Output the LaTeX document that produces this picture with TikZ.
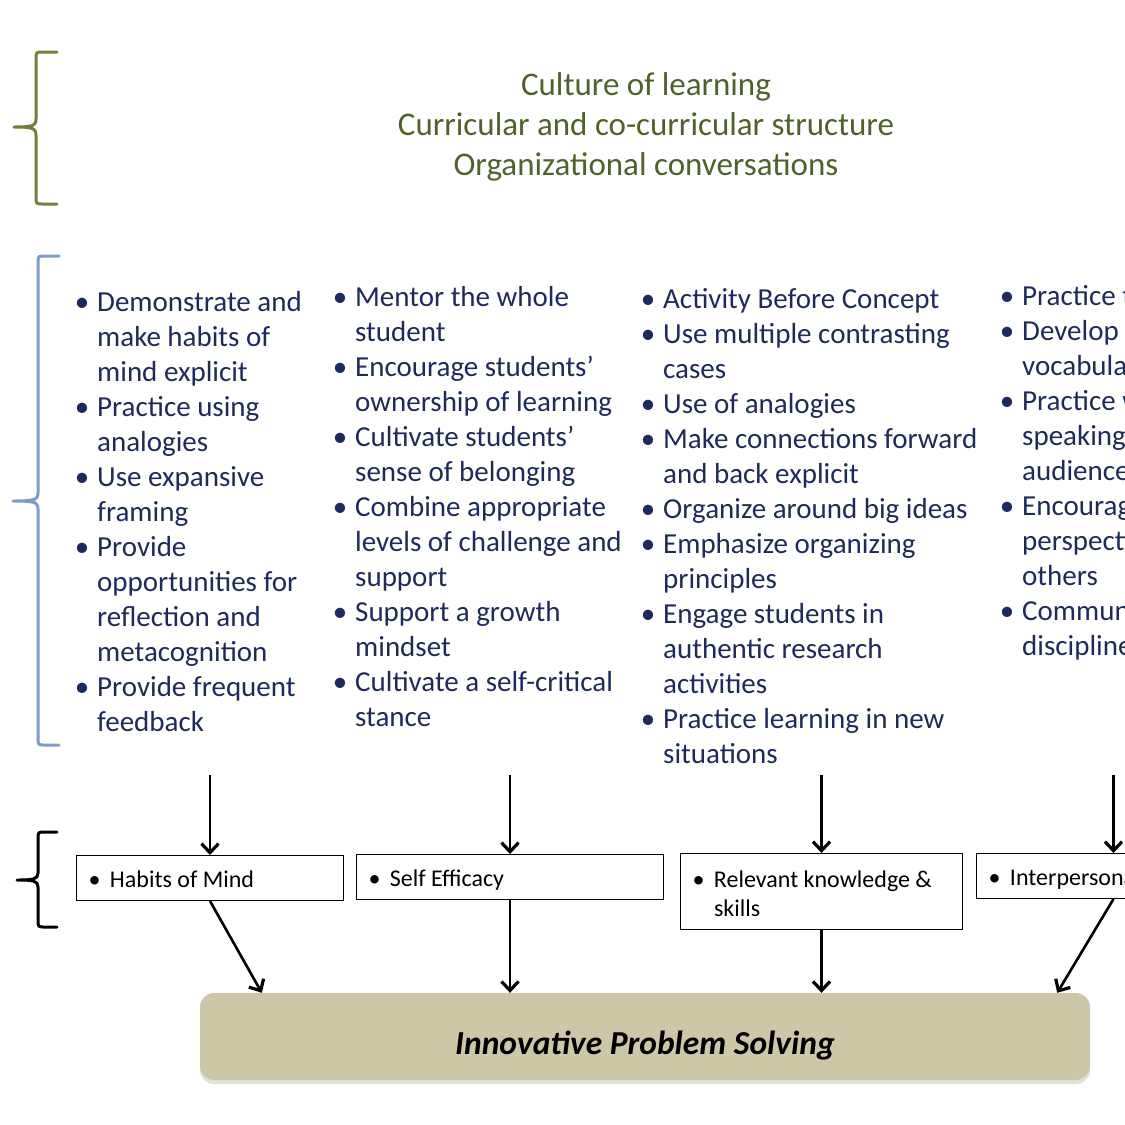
\documentclass[tikz,border=0pt]{standalone}
\usepackage{fontspec}
\setmainfont{Carlito}
\usetikzlibrary{arrows.meta,shadows}
\setlength{\parindent}{0pt}

\definecolor{olivetext}{RGB}{79,98,40}
\definecolor{olivebrace}{RGB}{112,127,60}
\definecolor{navytext}{RGB}{30,42,95}
\definecolor{bluebrace}{RGB}{125,155,205}
\definecolor{ipsfill}{RGB}{203,199,167}

\newcommand\tipb{\makebox[15pt][l]{\hspace*{-7pt}\makebox[14pt][c]{\textbullet}}}
\newcommand\tipi{\hspace*{15pt}}
\newcommand\goalb{\makebox[18.5pt][l]{\hspace*{-3pt}\makebox[12pt][c]{\textbullet}}}

\tikzset{brace line/.style={line width=3pt,line cap=round,line join=round},
  title text/.style={anchor=north,inner sep=0pt,align=center,text=olivetext,font=\fontsize{33}{40}\selectfont},
  tip list/.style={anchor=north west,inner sep=0pt,align=left,text=navytext,font=\fontsize{29}{35}\selectfont},
  goal box/.style={draw,line width=1pt,anchor=north west,minimum height=45pt,inner xsep=15pt,inner ysep=4pt,text height=23pt,text depth=5pt,align=flush left,font=\fontsize{24}{29}\selectfont},
  ips box/.style={fill=ipsfill,rounded corners=14pt,minimum width=890pt,minimum height=87pt,drop shadow={shadow xshift=0pt,shadow yshift=-4pt,opacity=0.25},font=\fontsize{33.5}{40}\selectfont\bfseries\itshape},
  arr/.style={line width=2.6pt,-{Straight Barb[length=9pt,width=17pt,line width=3.2pt]}}}

\begin{document}
\begin{tikzpicture}[x=1pt,y=-1pt]
	\useasboundingbox (0,0) rectangle (1125,1125);
	\clip (0,0) rectangle (1125,1125);
	% braces
	\draw[brace line,olivebrace] (57,52) -- (43,52) .. controls (36,52) .. (36,59) -- (36,119) .. controls (36,126) and (32,127) .. (14,127) .. controls (32,127) and (36,128) .. (36,135) -- (36,197) .. controls (36,204) .. (43,204) -- (57,204);
	\draw[brace line,bluebrace] (59,256) -- (45,256) .. controls (38,256) .. (38,263) -- (38,493) .. controls (38,500) and (34,501) .. (13,501) .. controls (34,501) and (38,502) .. (38,509) -- (38,738) .. controls (38,745) .. (45,745) -- (59,745);
	\draw[brace line,black] (57,832) -- (45,832) .. controls (38,832) .. (38,839) -- (38,873) .. controls (38,879) and (34,880) .. (17,880) .. controls (34,880) and (38,881) .. (38,887) -- (38,920) .. controls (38,927) .. (45,927) -- (57,927);
	% school level
	\node[title text] (culture) at (646,67) {\strut Culture of learning\\Curricular and co-curricular structure\\Organizational conversations};
	% classroom practices
	\node[tip list] (tips1) at (82,287) {\tipb\strut Demonstrate and\\ \tipi make habits of\\ \tipi mind explicit\\ \tipb Practice using\\ \tipi analogies\\ \tipb Use expansive\\ \tipi framing\\ \tipb Provide\\ \tipi opportunities for\\ \tipi reflection and\\ \tipi metacognition\\ \tipb Provide frequent\\ \tipi feedback};
	\node[tip list] (tips2) at (340,282) {\tipb\strut Mentor the whole\\ \tipi student\\ \tipb Encourage students’\\ \tipi ownership of learning\\ \tipb Cultivate students’\\ \tipi sense of belonging\\ \tipb Combine appropriate\\ \tipi levels of challenge and\\ \tipi support\\ \tipb Support a growth\\ \tipi mindset\\ \tipb Cultivate a self-critical\\ \tipi stance};
	\node[tip list] (tips3) at (648,284) {\tipb\strut Activity Before Concept\\ \tipb Use multiple contrasting\\ \tipi cases\\ \tipb Use of analogies\\ \tipb Make connections forward\\ \tipi and back explicit\\ \tipb Organize around big ideas\\ \tipb Emphasize organizing\\ \tipi principles\\ \tipb Engage students in\\ \tipi authentic research\\ \tipi activities\\ \tipb Practice learning in new\\ \tipi situations};
	\node[tip list] (tips4) at (1007,281) {\tipb\strut Practice teamwork\\ \tipb Develop shared\\ \tipi vocabulary\\ \tipb Practice writing and\\ \tipi speaking for varied\\ \tipi audiences\\ \tipb Encourage taking\\ \tipi perspectives of\\ \tipi others\\ \tipb Communicate across\\ \tipi disciplines};
	% outcomes
	\node[goal box,minimum width=267pt,text width=237pt] (habits) at (76,855) {\goalb Habits of Mind};
	\node[goal box,minimum width=307pt,text width=277pt] (selfeff) at (356,854) {\goalb Self Efficacy};
	\node[goal box,minimum width=282pt,minimum height=76pt,text width=252pt,text height=21pt,text depth=30pt] (relevant) at (680,853) {\goalb Relevant knowledge \&\\ \hspace*{18.5pt}skills};
	\node[goal box,minimum width=274pt,text width=244pt] (interp) at (976,853) {\goalb Interpersonal skills};
	\node[ips box] (ips) at (645,1036.5) {\raisebox{-18pt}[0pt][0pt]{Innovative Problem Solving}};
	% arrows
	\coordinate (feed) at (0,775);
	\foreach \b in {habits,selfeff,relevant,interp}
		\draw[arr] (\b.north |- feed) -- (\b.north);
	\draw[arr] (habits.south) -- ([xshift=62pt]ips.north west);
	\draw[arr] (selfeff.south) -- (selfeff.south |- ips.north);
	\draw[arr] (relevant.south) -- (relevant.south |- ips.north);
	\draw[arr] (interp.south) -- ([xshift=-33pt]ips.north east);
\end{tikzpicture}
\end{document}
